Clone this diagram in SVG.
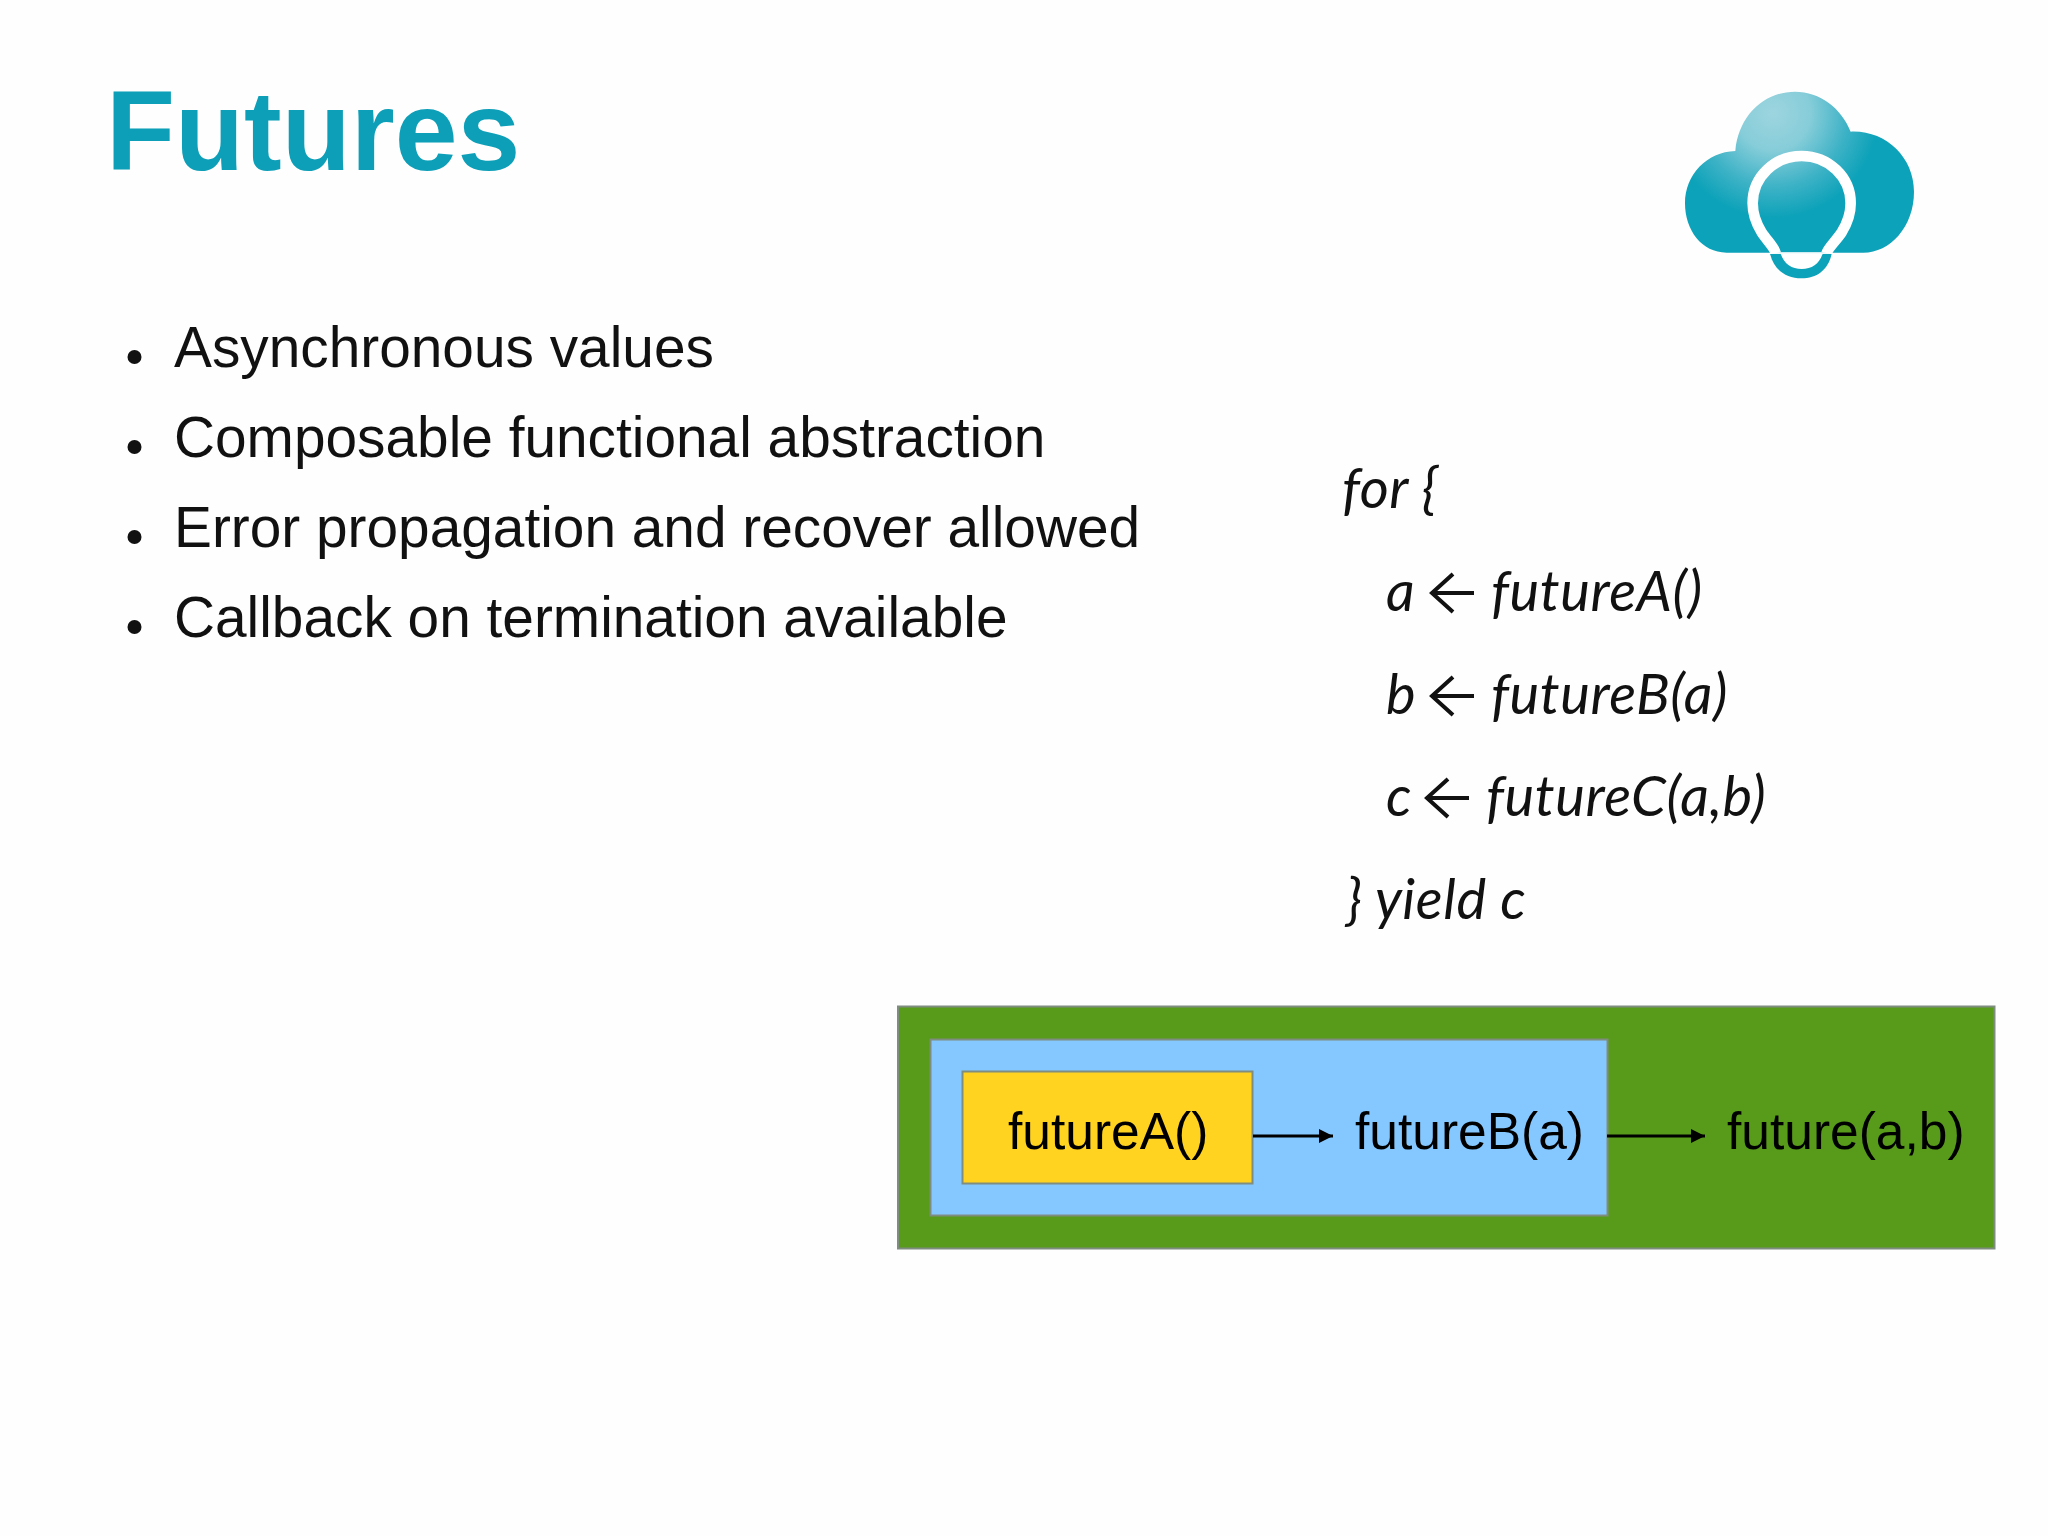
<svg xmlns="http://www.w3.org/2000/svg" width="2048" height="1536" viewBox="0 0 2048 1536">
<style>
.s{font-family:"Liberation Sans",Arial,sans-serif;fill:#111}
.title{font-size:113px;font-weight:700;fill:#0d9fb8}
.b{font-size:56.800px}
.d{font-size:51.500px;fill:#000}
.c{font-family:Lato,"Open Sans",sans-serif;font-style:italic;font-size:56px;letter-spacing:.6px;fill:#111}
.box{stroke:#7f8c80;stroke-width:2}
.ln{stroke:#000;stroke-width:3;fill:none;marker-end:url(#ah)}
.ar{stroke:#111;stroke-width:4;fill:none}
</style>
<defs>
<marker id="ah" markerUnits="userSpaceOnUse" markerWidth="16" markerHeight="16" refX="14" refY="8" orient="auto"><path d="M0 1L14 8L0 15Z" fill="#000"/></marker>
<radialGradient id="g" gradientUnits="userSpaceOnUse" cx="340" cy="130" r="370"><stop offset="0" stop-color="#9dd5df"/><stop offset=".3" stop-color="#86cdd9"/><stop offset=".6" stop-color="#3db2c6"/><stop offset=".85" stop-color="#0ca2b9"/></radialGradient>
</defs>
<rect width="2048" height="1536" fill="#fefefe"/>
<text class="s title" x="106" y="170">Futures</text>
<g id="bullets">
<circle cx="134.500" cy="357" r="7" fill="#111"/><text class="s b" x="174" y="367">Asynchronous values</text>
<circle cx="134.500" cy="447" r="7" fill="#111"/><text class="s b" x="174" y="457">Composable functional abstraction</text>
<circle cx="134.500" cy="537" r="7" fill="#111"/><text class="s b" x="174" y="547">Error propagation and recover allowed</text>
<circle cx="134.500" cy="627" r="7" fill="#111"/><text class="s b" x="174" y="637">Callback on termination available</text>
</g>
<g id="logo" transform="translate(1660 70) scale(.33333)">
<path fill="url(#g)" d="M200 548C125 548 75 480 75 400C75 315 140 245 226 243C235 140 310 65 405 65C480 65 545 115 572 185C675 180 762 260 762 365C762 470 690 548 610 548Z"/>
<path fill="#0ca2b9" d="M330 551H515C505 600 470 625 424 625C378 625 342 600 330 551Z"/>
<path fill="#fff" d="M362 551H488C478 582 455 597 425 597C395 597 372 582 362 551Z"/>
<path fill="none" stroke="#fff" stroke-width="32" d="M347 549C345 535 320 510 305 487C288 460 278 432 278 400C278 320 345 258 425 258C505 258 572 320 572 400C572 432 562 460 545 487C530 510 503 535 500 549"/>
<path fill="#fff" d="M330 547H515V551H330Z"/>
</g>
<g id="code">
<text class="c" x="1342" y="508">for {</text>
<text class="c" y="611"><tspan x="1386">a</tspan><tspan x="1491">futureA()</tspan></text>
<text class="c" y="714"><tspan x="1386">b</tspan><tspan x="1491">futureB(a)</tspan></text>
<text class="c" y="816"><tspan x="1386">c</tspan><tspan x="1486">futureC(a,b)</tspan></text>
<text class="c" x="1346" y="919">} yield c</text>
<path class="ar" d="M1474 593H1433M1453 574L1432 593L1453 612"/>
<path class="ar" d="M1474 696H1433M1453 677L1432 696L1453 715"/>
<path class="ar" d="M1469 798H1428M1448 779L1427 798L1448 817"/>
</g>
<g id="outer"><rect class="box" x="898" y="1006.500" width="1096.500" height="242" fill="#589a1a"/></g>
<g id="inner"><rect class="box" x="930.500" y="1039.500" width="677" height="176" fill="#85c8ff"/><text class="s d" x="1355" y="1149">futureB(a)</text></g>
<g id="futureA"><rect class="box" x="962.500" y="1071.500" width="290" height="112" fill="#ffd320"/><text class="s d" x="1008" y="1149">futureA()</text></g>
<g id="result"><text class="s d" x="1727" y="1149">future(a,b)</text></g>
<g id="connectors"><path class="ln" d="M1253 1136H1333"/><path class="ln" d="M1607 1136H1705"/></g>
</svg>
